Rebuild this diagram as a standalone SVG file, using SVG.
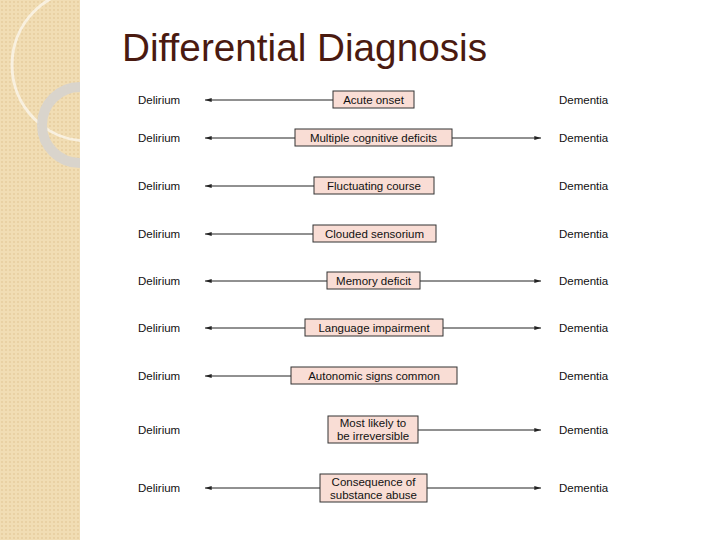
<svg xmlns="http://www.w3.org/2000/svg" width="720" height="540" viewBox="0 0 720 540">
<defs>
<pattern id="dots" width="4" height="4" patternUnits="userSpaceOnUse"><rect width="4" height="4" fill="#f1ddb4"/><circle cx="2" cy="2" r="0.9" fill="#e6cc9c"/></pattern>
<marker id="ah" viewBox="0 0 10 6" refX="10" refY="3" markerWidth="7" markerHeight="4" orient="auto-start-reverse"><path d="M0,0 L10,3 L0,6 z" fill="#222"/></marker>
<clipPath id="strip"><rect width="80" height="540"/></clipPath>
</defs>
<style>
.t{font-family:"Liberation Sans",Arial,sans-serif;font-size:11.5px;fill:#111}
.b{fill:#f9ddd5;stroke:#333;stroke-width:1}
.c line{stroke:#222;stroke-width:1}
</style>
<rect width="720" height="540" fill="#fff"/>
<rect width="80" height="540" fill="url(#dots)"/>
<g clip-path="url(#strip)" fill="none">
<circle cx="88" cy="65" r="76" stroke="#fff" stroke-opacity="0.6" stroke-width="3"/>
<circle cx="80" cy="125" r="38" stroke="#d9d4cc" stroke-width="10"/>
</g>
<text x="122" y="61" font-family="Liberation Sans,Arial,sans-serif" font-size="38" fill="#4a1a10" textLength="365" lengthAdjust="spacingAndGlyphs">Differential Diagnosis</text>
<g class="t">
<text x="138" y="104">Delirium</text><text x="138" y="142">Delirium</text><text x="138" y="190">Delirium</text><text x="138" y="238">Delirium</text><text x="138" y="285">Delirium</text><text x="138" y="332">Delirium</text><text x="138" y="380">Delirium</text><text x="138" y="434">Delirium</text><text x="138" y="492">Delirium</text>
<text x="559" y="104">Dementia</text><text x="559" y="142">Dementia</text><text x="559" y="190">Dementia</text><text x="559" y="238">Dementia</text><text x="559" y="285">Dementia</text><text x="559" y="332">Dementia</text><text x="559" y="380">Dementia</text><text x="559" y="434">Dementia</text><text x="559" y="492">Dementia</text>
</g>
<g id="connectors" class="c">
<line x1="333" y1="100" x2="205" y2="100" marker-end="url(#ah)"/>
<line x1="295" y1="138" x2="205" y2="138" marker-end="url(#ah)"/><line x1="452" y1="138" x2="541" y2="138" marker-end="url(#ah)"/>
<line x1="314" y1="186" x2="205" y2="186" marker-end="url(#ah)"/>
<line x1="313" y1="234" x2="205" y2="234" marker-end="url(#ah)"/>
<line x1="327" y1="281" x2="205" y2="281" marker-end="url(#ah)"/><line x1="420" y1="281" x2="541" y2="281" marker-end="url(#ah)"/>
<line x1="305" y1="328" x2="205" y2="328" marker-end="url(#ah)"/><line x1="443" y1="328" x2="541" y2="328" marker-end="url(#ah)"/>
<line x1="291" y1="376" x2="205" y2="376" marker-end="url(#ah)"/>
<line x1="418" y1="430" x2="541" y2="430" marker-end="url(#ah)"/>
<line x1="320" y1="488" x2="205" y2="488" marker-end="url(#ah)"/><line x1="427" y1="488" x2="541" y2="488" marker-end="url(#ah)"/>
</g>
<g id="n1"><rect class="b" x="333" y="91" width="81" height="17"/><text class="t" x="373.5" y="104" text-anchor="middle">Acute onset</text></g>
<g id="n2"><rect class="b" x="295" y="129" width="157" height="17"/><text class="t" x="373.5" y="142" text-anchor="middle">Multiple cognitive deficits</text></g>
<g id="n3"><rect class="b" x="314" y="177" width="120" height="17"/><text class="t" x="374" y="190" text-anchor="middle">Fluctuating course</text></g>
<g id="n4"><rect class="b" x="313" y="225" width="123" height="17"/><text class="t" x="374.5" y="238" text-anchor="middle">Clouded sensorium</text></g>
<g id="n5"><rect class="b" x="327" y="272" width="93" height="17"/><text class="t" x="373.5" y="285" text-anchor="middle">Memory deficit</text></g>
<g id="n6"><rect class="b" x="305" y="319" width="138" height="17"/><text class="t" x="374" y="332" text-anchor="middle">Language impairment</text></g>
<g id="n7"><rect class="b" x="291" y="367" width="166" height="17"/><text class="t" x="374" y="380" text-anchor="middle">Autonomic signs common</text></g>
<g id="n8"><rect class="b" x="328" y="416" width="90" height="27"/><text class="t" x="373" y="427" text-anchor="middle">Most likely to</text><text class="t" x="373" y="440" text-anchor="middle">be irreversible</text></g>
<g id="n9"><rect class="b" x="320" y="474" width="107" height="28"/><text class="t" x="373.5" y="486" text-anchor="middle">Consequence of</text><text class="t" x="373.5" y="499" text-anchor="middle">substance abuse</text></g>
</svg>
